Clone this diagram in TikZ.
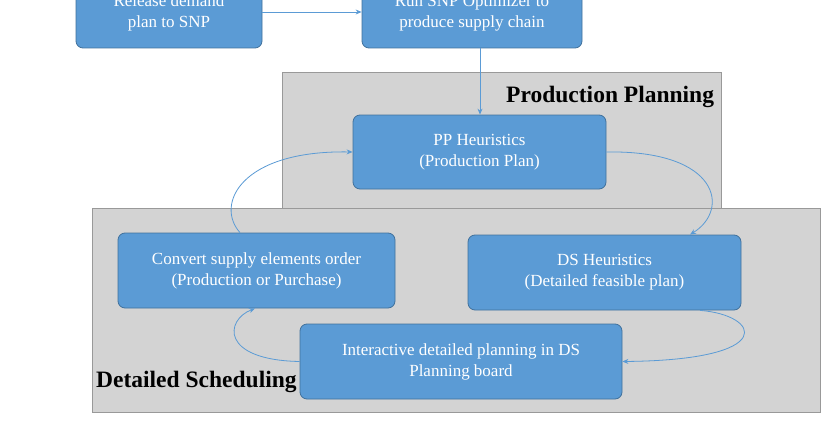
\documentclass[tikz,border=0pt]{standalone}
\usepackage{fontspec}
\setmainfont{Liberation Serif}
\usetikzlibrary{arrows.meta}
\definecolor{bfill}{HTML}{5B9BD5}
\definecolor{bdraw}{HTML}{41719C}
\definecolor{gfill}{HTML}{D3D3D3}
\begin{document}
\begin{tikzpicture}[x=1pt,y=-1pt,
  box/.style={draw=bdraw,fill=bfill,rounded corners=7pt,text=white,align=center,font=\fontsize{17}{21}\selectfont,line width=0.8pt},
  area/.style={draw=gray!80,fill=gfill,line width=0.6pt},
  arr/.style={draw=bfill,line width=0.8pt,-{Stealth[length=6pt,width=5pt]}},
  lab/.style={font=\fontsize{23.5}{27}\selectfont\bfseries,anchor=west,inner sep=0pt}]
\useasboundingbox (0,0) rectangle (832,436);
\fill[white] (0,0) rectangle (832,436);
\begin{scope}
\clip (0,0) rectangle (832,436);
\node[box,minimum width=186pt,minimum height=70pt] (rel) at (169,13) {Release demand\\plan to SNP};
\node[box,minimum width=220pt,minimum height=70pt] (run) at (472,13) {Run SNP Optimizer to\\produce supply chain};
\end{scope}
\draw[area] (282,72) rectangle (721,208);
\node[lab] (pplab) at (506,97) {Production Planning};
\draw[area] (92,208) rectangle (820,412);
\node[box,minimum width=253pt,minimum height=74pt] (pp) at (479.5,152) {PP Heuristics\\(Production Plan)};
\node[box,minimum width=277pt,minimum height=75pt] (conv) at (256.5,270.5) {Convert supply elements  order\\(Production or Purchase)};
\node[box,minimum width=273pt,minimum height=75pt] (ds) at (604.5,272.5) {DS Heuristics\\(Detailed  feasible plan)};
\node[box,minimum width=322pt,minimum height=75pt] (int) at (461,361.5) {Interactive detailed planning  in DS\\Planning  board};
\node[lab] (dslab) at (96,382) {Detailed Scheduling};
\draw[arr] (rel.east |- 0,12) -- (run.west |- 0,12);
\draw[arr] (run.south -| 480,0) -- (pp.north -| 480,0);
\draw[arr] (pp.east) .. controls (720,150) and (730,210) .. (ds.north -| 690,0);
\draw[arr] (conv.north -| 240,0) .. controls (215,205) and (240,150) .. (pp.west);
\draw[arr] (ds.south -| 700,0) .. controls (760,315) and (780,360) .. (int.east);
\draw[arr] (int.west) .. controls (220,360) and (225,320) .. (conv.south -| 255,0);
\end{tikzpicture}
\end{document}
